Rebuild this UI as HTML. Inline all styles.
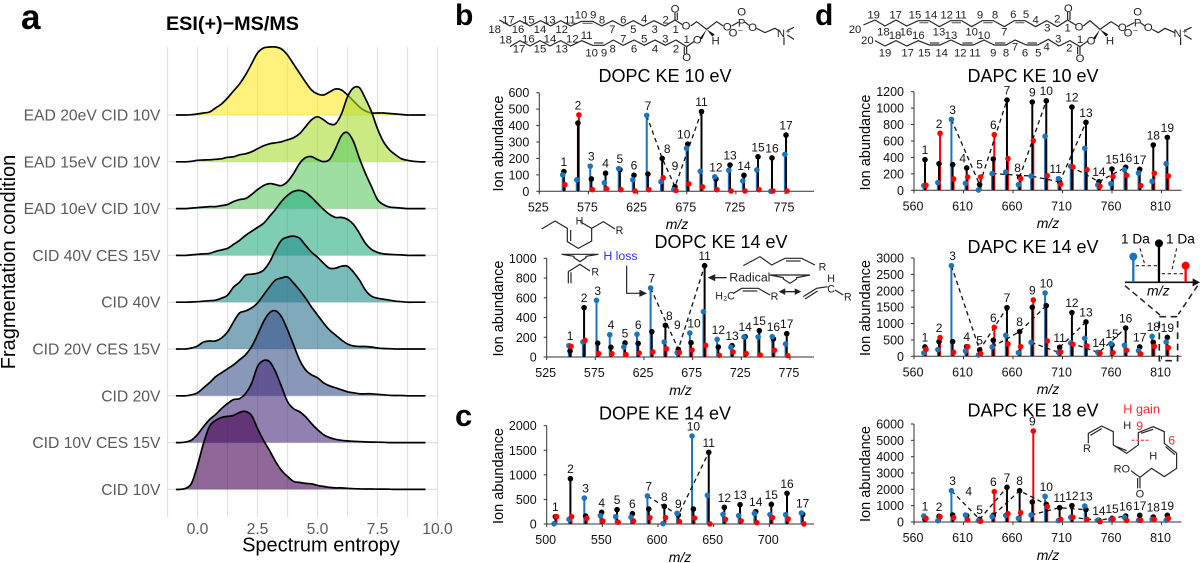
<!DOCTYPE html>
<html lang="en">
<head>
<meta charset="utf-8">
<title>Fragmentation condition ridgeline and ion abundance spectra</title>
<style>
html,body{margin:0;padding:0;background:#fff;width:1200px;height:563px;overflow:hidden}
svg{display:block;font-family:"Liberation Sans",Arial,sans-serif}
</style>
</head>
<body>
<svg id="figure" xmlns="http://www.w3.org/2000/svg" width="1200" height="563" viewBox="0 0 1200 563">
  <rect width="1200" height="563" fill="#fff"/>
  <g id="ridge-layer"></g>
  <g id="struct-layer"></g>
  <g id="stem-layer"></g>

  <text x="21" y="29" font-size="35" font-weight="700">a</text>
  <text x="455" y="25" font-size="30" font-weight="700">b</text>
  <text x="455" y="426" font-size="31" font-weight="700">c</text>
  <text x="815" y="25" font-size="30" font-weight="700">d</text>

  <text x="232.500" y="30" font-size="19.800" font-weight="700" text-anchor="middle">ESI(+)−MS/MS</text>
  <text x="321" y="551.500" font-size="20" text-anchor="middle">Spectrum entropy</text>
  <text transform="translate(15,262) rotate(-90)" font-size="20" text-anchor="middle">Fragmentation condition</text>

  <text x="665" y="82" font-size="18" text-anchor="middle">DOPC KE 10 eV</text>
  <text x="721" y="248" font-size="18" text-anchor="middle">DOPC KE 14 eV</text>
  <text x="665" y="419.500" font-size="18" text-anchor="middle">DOPE KE 14 eV</text>
  <text x="1033" y="82" font-size="18" text-anchor="middle">DAPC KE 10 eV</text>
  <text x="1033" y="253" font-size="18" text-anchor="middle">DAPC KE 14 eV</text>
  <text x="1033" y="416.500" font-size="18" text-anchor="middle">DAPC KE 18 eV</text>

  <g font-size="14.500" text-anchor="middle">
    <text transform="translate(503,143.500) rotate(-90)">Ion abundance</text>
    <text transform="translate(503,308.500) rotate(-90)">Ion abundance</text>
    <text transform="translate(503,476) rotate(-90)">Ion abundance</text>
    <text transform="translate(870,142.500) rotate(-90)">Ion abundance</text>
    <text transform="translate(870,308) rotate(-90)">Ion abundance</text>
    <text transform="translate(870,474) rotate(-90)">Ion abundance</text>
  </g>
  <g font-size="14" font-style="italic" text-anchor="middle">
    <text x="677" y="229">m/z</text>
    <text x="680.500" y="395">m/z</text>
    <text x="680" y="562">m/z</text>
    <text x="1048" y="228">m/z</text>
    <text x="1048" y="394">m/z</text>
    <text x="1048" y="560">m/z</text>
  </g>

  <!-- Annotation words, mechanism sketch (panel b middle); units are zoom coords -->
  <g transform="translate(450,215) scale(.3333)" fill="none" stroke="#222" stroke-width="3.500">
    <polyline points="275,42 315,18 352,40 352,80 385,100 425,78 425,40 390,20"/>
    <polyline points="425,40 460,20 495,42"/>
    <line x1="362" y1="45" x2="362" y2="78"/>
    <polygon points="335,118 445,118 408,124 408,128 390,140 372,128 372,124"/>
    <polyline points="355,205 355,170 390,148 420,168"/>
    <line x1="363" y1="205" x2="363" y2="172"/>
    <polyline points="530,152 530,235 572,235"/>
    <polygon points="570,227 587,235 570,243" fill="#222"/>
    <polyline points="880,152 930,125 965,150 1005,130 1055,130 1095,150"/>
    <line x1="1008" y1="138" x2="1052" y2="138"/>
    <line x1="830" y1="188" x2="792" y2="188" stroke-width="4"/>
    <polygon points="794,180 777,188 794,196" fill="#222"/>
    <polygon points="960,180 1080,180 1040,188 1040,192 1020,205 1000,192 1000,188"/>
    <polyline points="850,235 875,220 925,220 960,240"/>
    <line x1="878" y1="228" x2="922" y2="228"/>
    <line x1="1000" y1="230" x2="1040" y2="230" stroke-width="4"/>
    <polygon points="1004,223 990,230 1004,237" fill="#222"/>
    <polygon points="1036,223 1050,230 1036,237" fill="#222"/>
    <polyline points="1060,245 1100,220 1133,215"/>
    <line x1="1065" y1="252" x2="1103" y2="228"/>
    <line x1="1155" y1="225" x2="1180" y2="240"/>
    <g stroke="none" fill="#222" font-size="32">
      <text x="377" y="28">H</text>
      <text x="497" y="57">R</text>
      <text x="460" y="135" fill="#3333ff" font-size="37">H loss</text>
      <text x="424" y="181">R</text>
      <text x="838" y="200" font-size="37">Radical</text>
      <text x="1106" y="166">R</text>
      <text x="796" y="253">H₂C</text>
      <text x="962" y="255">R</text>
      <text x="1132" y="201">H</text>
      <text x="1132" y="233">C</text>
      <text x="1182" y="257">R</text>
    </g>
  </g>

  <!-- 1 Da inset (panel d middle) -->
  <g transform="translate(825,215) scale(.3333)">
    <line x1="900" y1="202" x2="1105" y2="202" stroke="#111" stroke-width="5"/>
    <polygon points="1103,190 1125,202 1103,214" fill="#111"/>
    <line x1="925" y1="125" x2="925" y2="202" stroke="#1b75bc" stroke-width="7"/>
    <line x1="1002" y1="85" x2="1002" y2="202" stroke="#000" stroke-width="7"/>
    <line x1="1082" y1="152" x2="1082" y2="202" stroke="#f00" stroke-width="7"/>
    <circle cx="925" cy="125" r="12" fill="#1b75bc"/>
    <circle cx="1002" cy="85" r="12" fill="#000"/>
    <circle cx="1082" cy="152" r="12" fill="#f00"/>
    <g stroke="#222" stroke-width="3.500" stroke-dasharray="10 8" fill="none">
      <line x1="945" y1="100" x2="960" y2="150"/>
      <line x1="1055" y1="100" x2="1040" y2="170"/>
      <line x1="932" y1="152" x2="996" y2="152"/>
      <line x1="1010" y1="176" x2="1074" y2="176"/>
      <line x1="900" y1="212" x2="1005" y2="300" stroke-width="4.500" stroke-dasharray="18 12"/>
      <line x1="1118" y1="212" x2="1060" y2="298" stroke-width="4.500" stroke-dasharray="18 12"/>
      <rect x="1003" y="305" width="55" height="132" stroke-width="5" stroke-dasharray="20 14"/>
    </g>
    <text x="888" y="86" font-size="41">1 Da</text>
    <text x="1023" y="86" font-size="41">1 Da</text>
    <text x="1000" y="241" font-size="42" font-style="italic" text-anchor="middle">m/z</text>
  </g>

  <!-- H gain sketch (panel d bottom) -->
  <g transform="translate(825,400) scale(.3333)" fill="none" stroke="#222" stroke-width="3.500">
    <polyline points="790,130 790,100 830,78 865,95 865,135 905,160 940,135 940,98 985,80 1018,95 1018,130 1055,160 1055,205 1018,230 980,205 945,232"/>
    <line x1="796" y1="106" x2="830" y2="86"/>
    <line x1="875" y1="140" x2="905" y2="152"/>
    <line x1="948" y1="100" x2="985" y2="88"/>
    <line x1="1022" y1="140" x2="1050" y2="164"/>
    <line x1="945" y1="232" x2="945" y2="265"/>
    <line x1="938" y1="234" x2="938" y2="265"/>
    <line x1="945" y1="232" x2="918" y2="212"/>
    <line x1="920" y1="121" x2="975" y2="121" stroke="#ff5a5a" stroke-dasharray="9 5" stroke-width="4"/>
    <g stroke="none" fill="#222" font-size="33">
      <text x="895" y="40" fill="#ff2a2a" font-size="38">H gain</text>
      <text x="774" y="156">R</text>
      <text x="895" y="87">H</text>
      <text x="934" y="90" fill="#ff2a2a" font-size="37">9</text>
      <text x="1030" y="134" fill="#ff2a2a" font-size="37">6</text>
      <text x="973" y="179">H</text>
      <text x="866" y="218">RO</text>
      <text x="932" y="292">O</text>
    </g>
  </g>
</svg>

<script>
/* ---------- Ridgeline data: relative density sampled every 0.25 entropy from -0.75 ---------- */
const ridgeCategories = ["EAD 20eV CID 10V","EAD 15eV CID 10V","EAD 10eV CID 10V","CID 40V CES 15V","CID 40V","CID 20V CES 15V","CID 20V","CID 10V CES 15V","CID 10V"];
const ridgeXTicks = [0, 2.5, 5, 7.5, 10];
const ridgeXTickLabels = ["0.0","2.5","5.0","7.5","10.0"];
const densityEad20 = [0,0,.3,1,2,3,7,11,17,24,31,40,51,62,67,68,68,66,60,51,42,33,25,21,20,23,26,25,20,14,8,4,2,2,2,1.5,1,.5];
const densityEad15 = [0,0,.5,1.5,1.8,2,2.5,3,4.5,5,7,8,10,13,16,18,19,20,22,24,28,35,42,45,42,38,38,48,65,74,74,63,50,33,20,12,7,3,1.5,.5];
const densityEad10 = [0,0,.5,1,1.5,2,2,3,4,7,9,10,14,19,23,25,24,23,27,35,45,51,52,49,47,49,60,73,76,67,50,35,22,9,4,1.5,1,.5];
const densityCid40Ces = [0,0,.5,1,1.5,2,4,5.5,7,11,15,20,24,28,32,39,46,54,60,64,65,63,58,52,46,41,38,38,36,31,22,12,6,3,1.5,1,.7,.5];
const densityCid40 = [0,0,.2,.5,1,1.5,2,4,7,15,20,27,28,29,32,40,52,62,65,66,64,57,50,45,39,34,34,36,36,30,22,12,6,4,3,2,1,.5];
const densityCid20Ces = [0,0,1,3,7,8,8,11,17,27,36,38,41,46,54,62,69,71,72,66,59,51,42,34,26,19,14,9,5,3,2.5,2.5,2,1,.5,.3];
const densityCid20 = [0,0,1,3,8,13,19,23,27,31,36,41,49,61,74,83,85,79,66,51,36,26,21,18,13,10,8,6,4,3,2,2,2,1.5,1,.5,.3,.3];
const densityCid10Ces = [0,.5,2.5,8,16,23,28,34,39,43,44,49,59,76,82,81,71,56,41,34,31,26,19,13,8,5,3.3,2.3,1.7,1.3,1,.7,.5,.4,.3];
const densityCid10 = [0,1,6,24,46,63,69,72,73,74,77,78,74,61,49,39,28,19,13,8,7,6,5.5,4,3,2,1.5,1.5,1,.7,.5,.4,.4,.3,.3,.2];

/* ---------- Stem chart data ---------- */
const dopc10Mz = [550,564.3,578,592.4,607,621.3,635.5,650,663,676,690,704.7,719,733.2,747.5,761.7,776];
const dopc10Black = [120,415,75,110,132,98,105,200,28,287,485,75,160,97,210,203,342];
const dopc10Blue = [100,70,153,52,138,70,462,58,10,262,122,88,128,63,130,0,225];
const dopc10Red = [40,465,10,15,10,2,10,82,5,45,27,10,2,2,10,2,2];
const dopc10XTicks = [525,575,625,675,725,775];
const dopc10YTicks = [0,100,200,300,400,500,600];

const dopc14Mz = [549,563.4,577.4,591,605.5,619,633,647,660.3,673.3,687.3,701.4,715.5,729,743.5,758,771.7];
const dopc14Black = [60,500,140,98,142,138,257,321,78,145,925,101,115,206,267,182,236];
const dopc14Blue = [115,152,574,226,101,230,699,152,44,243,459,179,98,203,203,206,132];
const dopc14Red = [108,169,34,34,24,40,51,84,47,71,118,17,51,34,20,68,14];
const dopc14XTicks = [525,575,625,675,725,775];
const dopc14YTicks = [0,200,400,600,800,1000];

const dope14Mz = [507.8,521.3,535,549.4,563.2,577,591.7,605.7,618.3,631.8,645.6,659.6,673.7,687.8,701.8,715.9,730];
const dope14Black = [150,922,163,237,292,210,305,359,183,305,1458,339,393,251,400,624,197];
const dope14Blue = [5,95,529,170,150,136,570,7,217,1790,583,197,170,217,190,190,224];
const dope14Red = [150,150,115,61,34,61,129,129,47,122,2,95,61,27,129,102,2];
const dope14XTicks = [500,550,600,650,700];
const dope14YTicks = [0,500,1000,1500,2000];

const dapcMz = [571.1,585.3,599,613.2,626.3,640.1,653.9,666.7,679.5,693.6,707.1,719.5,733.7,746.8,760,773.8,788,801.7,815.9];
const dapc10Black = [373,324,312,272,69,381,1098,158,1074,1090,101,1013,827,105,259,280,255,551,644];
const dapc10Blue = [57,93,863,85,4,203,223,69,174,657,142,292,511,65,81,251,211,109,324];
const dapc10Red = [61,693,138,162,162,677,385,142,604,178,73,284,251,49,166,182,57,207,174];
const dapc10YTicks = [0,200,400,600,800,1000,1200];

const dapc14Black = [285,447,447,295,193,488,1485,752,1495,1546,275,1332,1048,112,346,864,285,427,580];
const dapc14Blue = [102,203,2767,163,41,285,640,112,427,1932,122,407,549,122,386,336,173,610,437];
const dapc14Red = [214,570,122,295,81,885,376,295,1719,468,132,366,315,92,112,183,71,305,264];
const dapc14YTicks = [0,500,1000,1500,2000,2500,3000];

const dapc18Black = [163,347,429,388,163,408,2122,1918,1224,1082,878,1000,755,102,224,367,408,306,408];
const dapc18Blue = [367,82,1918,429,82,326,408,224,429,1571,82,286,980,102,163,286,102,163,102];
const dapc18Red = [224,327,265,122,41,1857,510,571,5571,939,163,286,163,20,184,102,102,163,224];
const dapc18YTicks = [0,1000,2000,3000,4000,5000,6000];
const dapcXTicks = [560,610,660,710,760,810];

/* ---------- SVG helper ---------- */
const NS = 'http://www.w3.org/2000/svg';
function make(tag, name, attrs, parent, content) {
  const el = document.createElementNS(NS, tag);
  
  
  for (const key in attrs) el.setAttribute(key, attrs[key]);
  if (content !== undefined) el.textContent = content;
  parent.appendChild(el);
  return el;
}

/* ---------- Ridgeline ---------- */
const ridgeLayer = document.getElementById('ridge-layer');
const ridgeSeries = [densityEad20, densityEad15, densityEad10, densityCid40Ces, densityCid40, densityCid20Ces, densityCid20, densityCid10Ces, densityCid10];
const viridisFill = ['#fde725','#aadc32','#5ec962','#27ad81','#21908c','#2c728e','#3b528b','#472d7b','#440154'];
const entropyX = e => 197.5 + e * 24;
const ridgeBaseY = i => 115 + i * 46.8;
const densityY = (d, i) => ridgeBaseY(i) - d;

function smoothPath(pts) {
  let p = 'M' + pts[0][0].toFixed(1) + ' ' + pts[0][1].toFixed(1);
  for (let i = 0; i < pts.length - 1; i++) {
    const a = pts[Math.max(i - 1, 0)], b = pts[i], c = pts[i + 1], d = pts[Math.min(i + 2, pts.length - 1)];
    const c1x = b[0] + (c[0] - a[0]) / 6, c1y = b[1] + (c[1] - a[1]) / 6;
    const c2x = c[0] - (d[0] - b[0]) / 6, c2y = c[1] - (d[1] - b[1]) / 6;
    p += 'C' + c1x.toFixed(1) + ' ' + c1y.toFixed(1) + ' ' + c2x.toFixed(1) + ' ' + c2y.toFixed(1) + ' ' + c[0].toFixed(1) + ' ' + c[1].toFixed(1);
  }
  return p;
}

for (let e = -1.25; e <= 10; e += 1.25) {
  make('line', 'ridge-vertical-gridline', {x1: entropyX(e), x2: entropyX(e), y1: 47, y2: 517, stroke: '#e2e2e2', 'stroke-width': 1.2}, ridgeLayer);
}
ridgeCategories.forEach((cat, i) => {
  make('line', 'ridge-horizontal-gridline', {x1: 168, x2: 437, y1: ridgeBaseY(i), y2: ridgeBaseY(i), stroke: '#e2e2e2', 'stroke-width': 1.2}, ridgeLayer);
  make('text', 'ridge-y-tick-label', {x: 160.5, y: ridgeBaseY(i) + 5.5, 'text-anchor': 'end', 'font-size': 15.7, fill: '#5a5a5a'}, ridgeLayer, cat);
});
ridgeSeries.forEach((vals, i) => {
  const pts = [[entropyX(-0.9), densityY(0, i)]];
  const n = Math.round((9.5 + 0.75) / 0.25);
  for (let k = 0; k <= n; k++) {
    const e = -0.75 + k * 0.25;
    pts.push([entropyX(e), densityY(vals[k] === undefined ? 0 : vals[k], i)]);
  }
  const curve = smoothPath(pts);
  const baseY = ridgeBaseY(i);
  make('path', 'ridge-area', {d: curve + 'L' + entropyX(9.5) + ' ' + baseY + 'L' + entropyX(-0.9) + ' ' + baseY + 'Z', fill: viridisFill[i], 'fill-opacity': 0.6, stroke: 'none'}, ridgeLayer);
  make('path', 'ridge-line', {d: curve, fill: 'none', stroke: '#000', 'stroke-width': 1.7}, ridgeLayer);
});
ridgeXTicks.forEach((t, i) => {
  make('text', 'ridge-x-tick-label', {x: entropyX(t), y: 534, 'text-anchor': 'middle', 'font-size': 15.7, fill: '#5a5a5a'}, ridgeLayer, ridgeXTickLabels[i]);
});

/* ---------- Stem panels ---------- */
const stemLayer = document.getElementById('stem-layer');
const BLUE = '#1b75bc', RED = '#ff0000', BLACK = '#000000';

function drawPanel(cfg) {
  const g = make('g', cfg.name, {}, stemLayer);
  const xScale = m => cfg.x0 + (m - cfg.xTicks[0]) * cfg.pxPerDa;
  const yMax = cfg.yTicks[cfg.yTicks.length - 1];
  const yScale = v => cfg.y0 - v * cfg.yHeight / yMax;
  const series = {black: cfg.black, blue: cfg.blue, red: cfg.red};
  const seriesX = {black: m => xScale(m), blue: m => xScale(m - 1.2), red: m => xScale(m + 1)};

  make('line', 'x-axis-line', {x1: cfg.x0, x2: cfg.xEnd, y1: cfg.y0, y2: cfg.y0, stroke: '#333', 'stroke-width': 1}, g);
  make('line', 'y-axis-line', {x1: cfg.x0, x2: cfg.x0, y1: cfg.y0, y2: cfg.y0 - cfg.yHeight, stroke: '#333', 'stroke-width': 1}, g);
  cfg.yTicks.forEach(t => {
    make('line', 'y-tick', {x1: cfg.x0 - 3, x2: cfg.x0, y1: yScale(t), y2: yScale(t), stroke: '#333', 'stroke-width': 1}, g);
    make('text', 'y-tick-label', {x: cfg.x0 - 10, y: yScale(t) + 4.5, 'text-anchor': 'end', 'font-size': 12.5, fill: '#111'}, g, t);
  });
  cfg.xTicks.forEach(t => {
    make('line', 'x-tick', {x1: xScale(t), x2: xScale(t), y1: cfg.y0, y2: cfg.y0 + 3, stroke: '#333', 'stroke-width': 1}, g);
    make('text', 'x-tick-label', {x: xScale(t) - 1, y: cfg.y0 + 20, 'text-anchor': 'middle', 'font-size': 12.5, fill: '#111'}, g, t);
  });

  cfg.mz.forEach((m, i) => {
    make('line', 'blue-stem', {x1: seriesX.blue(m), x2: seriesX.blue(m), y1: cfg.y0, y2: yScale(cfg.blue[i]), stroke: BLUE, 'stroke-width': 2}, g);
    make('line', 'red-stem', {x1: seriesX.red(m), x2: seriesX.red(m), y1: cfg.y0, y2: yScale(cfg.red[i]), stroke: RED, 'stroke-width': 2}, g);
    make('line', 'black-stem', {x1: seriesX.black(m), x2: seriesX.black(m), y1: cfg.y0, y2: yScale(cfg.black[i]), stroke: BLACK, 'stroke-width': 2}, g);
  });

  (cfg.dashes || []).forEach(path => {
    const pts = path.map(([s, i]) => seriesX[s](cfg.mz[i]).toFixed(1) + ',' + yScale(series[s][i]).toFixed(1)).join(' ');
    make('polyline', 'dashed-trend-line', {points: pts, fill: 'none', stroke: '#111', 'stroke-width': 1.3, 'stroke-dasharray': '4.5 3.5'}, g);
  });

  cfg.mz.forEach((m, i) => {
    make('circle', 'black-marker', {cx: seriesX.black(m), cy: yScale(cfg.black[i]), r: 2.8, fill: BLACK}, g);
    make('circle', 'blue-marker', {cx: seriesX.blue(m), cy: yScale(cfg.blue[i]), r: 2.8, fill: BLUE}, g);
    make('circle', 'red-marker', {cx: seriesX.red(m), cy: yScale(cfg.red[i]), r: 2.8, fill: RED}, g);
  });

  cfg.mz.forEach((m, i) => {
    const nudge = (cfg.nudges && cfg.nudges[i]) || [0, 0];
    const top = Math.max(cfg.black[i], cfg.blue[i], cfg.red[i]);
    make('text', 'fragment-position-label', {x: seriesX.black(m) + nudge[0], y: yScale(top) - 5.5 + nudge[1], 'text-anchor': 'middle', 'font-size': 12, fill: '#111'}, g, i + 1);
  });
}

drawPanel({name:'dopc-10-chart', mz:dopc10Mz, black:dopc10Black, blue:dopc10Blue, red:dopc10Red, xTicks:dopc10XTicks, yTicks:dopc10YTicks,
  x0:539.3, xEnd:814, pxPerDa:.983, y0:191.3, yHeight:98.6,
  dashes:[[['blue',6],['black',7],['black',8],['black',10]]],
  nudges:{7:[5,0],8:[0,-11],9:[-4,0]}});
drawPanel({name:'dopc-14-chart', mz:dopc14Mz, black:dopc14Black, blue:dopc14Blue, red:dopc14Red, xTicks:dopc14XTicks, yTicks:dopc14YTicks,
  x0:546.7, xEnd:814, pxPerDa:.973, y0:357, yHeight:98.7,
  dashes:[[['blue',6],['black',8],['black',10]]],
  nudges:{7:[4,0],8:[-1,-15],9:[3,0]}});
drawPanel({name:'dope-14-chart', mz:dope14Mz, black:dope14Black, blue:dope14Blue, red:dope14Red, xTicks:dope14XTicks, yTicks:dope14YTicks,
  x0:546.7, xEnd:814, pxPerDa:1.113, y0:524, yHeight:98.3,
  dashes:[[['blue',6],['black',7],['black',8],['black',10]]],
  nudges:{}});
drawPanel({name:'dapc-10-chart', mz:dapcMz, black:dapc10Black, blue:dapc10Blue, red:dapc10Red, xTicks:dapcXTicks, yTicks:dapc10YTicks,
  x0:914, xEnd:1181.5, pxPerDa:.99, y0:190.3, yHeight:98.6,
  dashes:[[['blue',2],['black',4],['black',6]],[['blue',5],['blue',8],['black',10]],[['black',7],['black',9]],[['black',10],['black',12]],[['blue',11],['black',13],['black',15]]],
  nudges:{3:[-4,0],4:[0,-3],7:[-2,0],10:[-4,0]}});
drawPanel({name:'dapc-14-chart', mz:dapcMz, black:dapc14Black, blue:dapc14Blue, red:dapc14Red, xTicks:dapcXTicks, yTicks:dapc14YTicks,
  x0:914, xEnd:1181.5, pxPerDa:.99, y0:356.3, yHeight:98.3,
  dashes:[[['blue',2],['black',4],['black',6]],[['blue',5],['black',7],['black',9]],[['blue',8],['blue',10]],[['black',10],['black',12]],[['blue',11],['black',13],['black',15]]],
  nudges:{}});
drawPanel({name:'dapc-18-chart', mz:dapcMz, black:dapc18Black, blue:dapc18Blue, red:dapc18Red, xTicks:dapcXTicks, yTicks:dapc18YTicks,
  x0:914, xEnd:1181.5, pxPerDa:.99, y0:522, yHeight:98,
  dashes:[[['blue',2],['black',4],['black',6]],[['black',5],['black',7],['black',9]],[['blue',8],['black',10],['black',12]],[['blue',11],['black',13],['black',15]]],
  nudges:{3:[2,-14]}});

/* ---------- Lipid structures (drawn in 3x coordinates) ---------- */
const structLayer = document.getElementById('struct-layer');
function drawLipid(name, ox, chains, doubles, wedges, labels) {
  const g = make('g', name, {transform: 'translate(' + ox + ',0) scale(.3333)'}, structLayer);
  chains.forEach(pts => {
    make('polyline', 'acyl-chain-bond', {points: pts, fill: 'none', stroke: '#222', 'stroke-width': 3.5}, g);
  });
  doubles.forEach(d => {
    make('line', 'double-bond', {x1: d[0], y1: d[1], x2: d[2], y2: d[3], stroke: d[4] || '#444', 'stroke-width': 4}, g);
  });
  wedges.forEach(w => {
    make('polygon', 'stereo-wedge', {points: w, fill: '#111'}, g);
  });
  labels.forEach(l => {
    make('text', 'structure-atom-label', {x: l[0], y: l[1], 'font-size': 34, 'text-anchor': 'middle', fill: '#222', dy: 11}, g, l[2]);
  });
}

drawLipid('dopc-structure', 450,
  ['148,60 180,78 210,62 240,78 272,62 302,78 332,62 362,78 395,64 428,64 455,78 488,62 518,78 550,62 580,78 612,62 645,78 675,60 697,74',
   '180,140 210,122 240,138 270,122 300,138 332,122 362,138 395,122 428,136 462,136 490,120 520,136 552,120 583,136 615,120 646,136 678,120 710,140 732,125',
   '722,78 740,65 770,88 800,65 820,78',
   '845,78 866,66','884,66 897,76','920,85 945,98 975,85 992,95',
   '1012,92 1032,82','1012,105 1032,118','1002,112 1002,135','675,60 675,38','682,60 682,38','710,140 710,162','703,140 703,162'],
  [[397,70,428,70,'#777'],[432,129,460,129]], ['770,88 794,103 787,110','770,88 750,114 756,118'],
  [[175,60,'17'],[235,60,'15'],[298,60,'13'],[360,60,'11'],[393,45,'10'],[430,45,'9'],[456,60,'8'],[520,60,'6'],[583,56,'4'],[647,60,'2'],
   [134,88,'18'],[204,88,'16'],[270,88,'14'],[335,88,'12'],[487,88,'7'],[550,88,'5'],[614,88,'3'],[677,88,'1'],
   [167,120,'18'],[235,116,'16'],[300,116,'14'],[367,116,'12'],[410,106,'11'],[520,116,'7'],[583,116,'5'],[646,116,'3'],[710,118,'1'],
   [207,146,'17'],[270,146,'15'],[335,146,'13'],[425,158,'10'],[462,158,'9'],[488,146,'8'],[552,146,'6'],[615,146,'4'],[678,146,'2'],
   [675,27,'O'],[708,78,'O'],[742,120,'O'],[710,172,'O'],[797,122,'H'],[832,80,'O'],[875,68,'P'],[875,36,'O'],[858,98,'O⁻'],[908,82,'O'],[1002,100,'N⁺']]);

drawLipid('dapc-structure', 825,
  ['115,75 150,60 180,78 213,60 245,78 280,62 312,62 343,80 377,62 410,62 440,80 472,62 505,62 538,80 568,62 600,62 632,80 665,62 697,80 728,60 752,75',
   '150,122 180,138 213,122 245,138 280,122 313,135 345,135 378,120 410,135 445,135 477,120 508,135 543,135 570,120 605,135 638,135 670,118 702,138 735,122 765,140 790,122',
   '775,78 795,62 825,88 858,65 882,80',
   '905,80 928,68','946,68 960,78','982,88 1000,98 1020,85 1050,98',
   '1078,92 1100,82','1078,105 1100,118','1067,112 1067,135','728,60 728,36','735,60 735,36','765,140 765,163','758,140 758,163'],
  [[283,68,310,68,'#777'],[380,68,408,68,'#777'],[475,68,503,68,'#777'],[571,68,598,68,'#777'],
   [315,129,343,129],[412,129,443,129],[510,129,541,129],[607,129,636,129]],
  ['825,88 850,103 843,110','825,88 805,114 811,118'],
  [[146,45,'19'],[212,45,'17'],[270,45,'15'],[318,45,'14'],[365,45,'12'],[408,45,'11'],[465,45,'9'],[510,45,'8'],[565,43,'6'],[603,43,'5'],[632,60,'4'],[697,56,'2'],
   [90,88,'20'],[175,95,'18'],[243,95,'16'],[342,95,'13'],[440,95,'10'],[538,95,'7'],[667,83,'3'],[728,83,'1'],
   [127,121,'20'],[210,106,'18'],[280,106,'16'],[378,106,'13'],[477,106,'10'],[570,141,'7'],[700,116,'3'],[765,118,'1'],
   [180,158,'19'],[248,158,'17'],[298,158,'15'],[350,158,'14'],[406,158,'12'],[450,158,'11'],[505,158,'9'],[543,158,'8'],[600,158,'6'],[640,158,'5'],[665,141,'4'],[733,143,'2'],
   [730,25,'O'],[762,80,'O'],[798,122,'O'],[765,175,'O'],[855,122,'H'],[892,82,'O'],[938,68,'P'],[938,35,'O'],[918,98,'O⁻'],[970,82,'O'],[1067,100,'N⁺']]);
</script>
</body>
</html>
